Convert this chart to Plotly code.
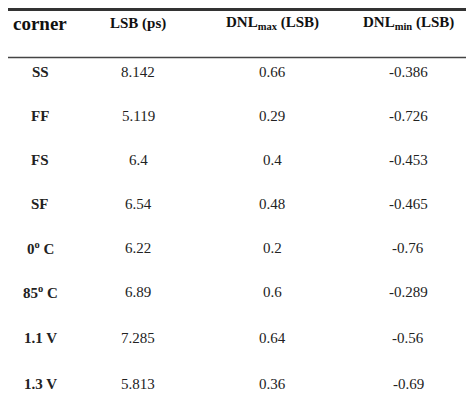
import plotly.graph_objects as go

corners = ["SS", "FF", "FS", "SF", "0<sup>o</sup> C", "85<sup>o</sup> C", "1.1 V", "1.3 V"]
lsb = ["8.142", "5.119", "6.4", "6.54", "6.22", "6.89", "7.285", "5.813"]
dnl_max = ["0.66", "0.29", "0.4", "0.48", "0.2", "0.6", "0.64", "0.36"]
dnl_min = ["-0.386", "-0.726", "-0.453", "-0.465", "-0.76", "-0.289", "-0.56", "-0.69"]
headers = ["corner", "LSB (ps)", "DNL<sub>max</sub> (LSB)", "DNL<sub>min</sub> (LSB)"]

col_x = [40, 138, 272, 408]
row_y = [72, 116, 160, 204, 248, 292, 338, 384]
font = "Liberation Serif"

fig = go.Figure()
fig.add_trace(go.Scatter(x=[100], y=[100], mode="markers", marker=dict(opacity=0), hoverinfo="skip", showlegend=False))
ann = []
for i, h in enumerate(headers):
    ann.append(dict(x=col_x[i], y=23, text=f"<b>{h}</b>", showarrow=False,
                    font=dict(family=font, size=19 if i == 0 else 15, color="#111")))
cols = [corners, lsb, dnl_max, dnl_min]
for c, vals in enumerate(cols):
    for r, v in enumerate(vals):
        t = f"<b>{v}</b>" if c == 0 else v
        ann.append(dict(x=col_x[c], y=row_y[r], text=t, showarrow=False,
                        font=dict(family=font, size=15, color="#222")))
fig.update_layout(
    width=474, height=413, margin=dict(l=0, r=0, t=0, b=0),
    paper_bgcolor="white", plot_bgcolor="white",
    xaxis=dict(range=[8, 482], visible=False, fixedrange=True),
    yaxis=dict(range=[421, 8], visible=False, fixedrange=True),
    annotations=ann,
    shapes=[
        dict(type="line", xref="paper", x0=0, x1=1, y0=9.5, y1=9.5, line=dict(color="#333", width=3)),
        dict(type="line", xref="paper", x0=0, x1=1, y0=57.5, y1=57.5, line=dict(color="#444", width=1.5)),
    ],
)
fig.write_html("out.html")
